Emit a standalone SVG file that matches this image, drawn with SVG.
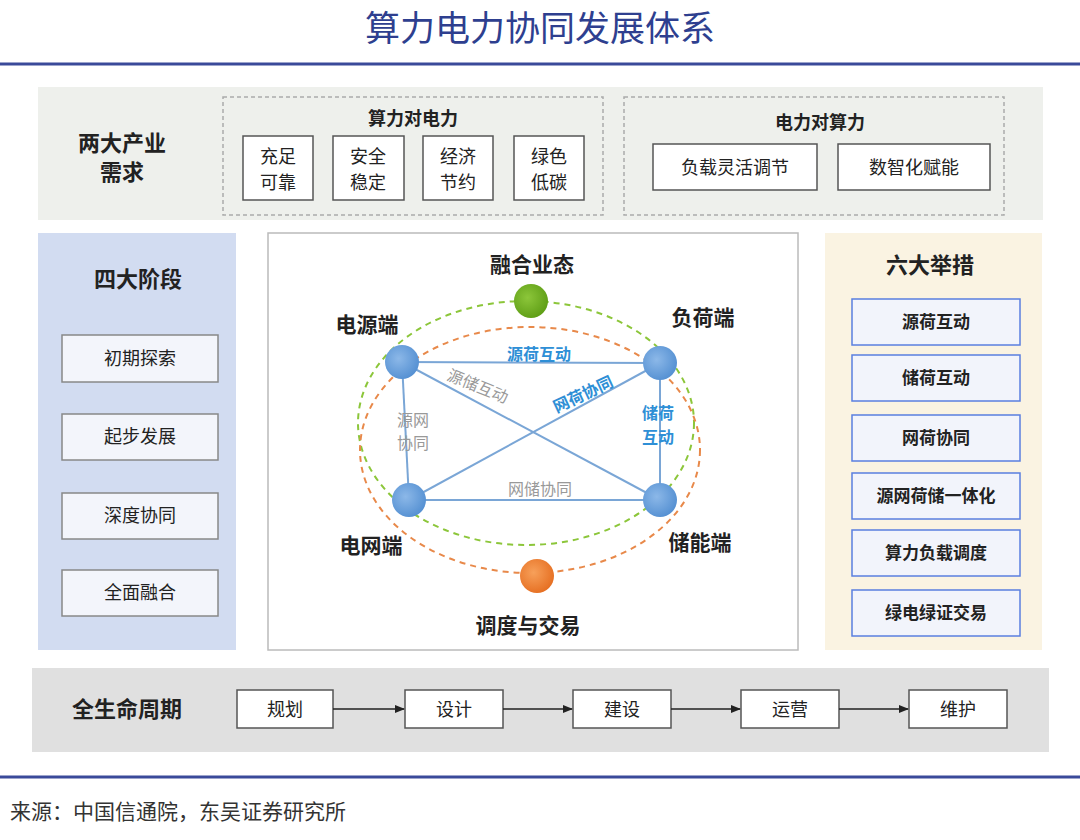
<svg xmlns="http://www.w3.org/2000/svg" width="1080" height="840" viewBox="0 0 1080 840">
<defs>
<marker id="ar" markerWidth="10" markerHeight="10" refX="9" refY="5" orient="auto" markerUnits="userSpaceOnUse"><path d="M0,1 L10,5 L0,9 Z" fill="#222"/></marker>
<radialGradient id="bg" cx="0.4" cy="0.4" r="0.7"><stop offset="0" stop-color="#8cb8e8"/><stop offset="1" stop-color="#4f8cd0"/></radialGradient>
<radialGradient id="gg" cx="0.4" cy="0.4" r="0.7"><stop offset="0" stop-color="#8cc63a"/><stop offset="1" stop-color="#5a9a12"/></radialGradient>
<radialGradient id="og" cx="0.4" cy="0.4" r="0.7"><stop offset="0" stop-color="#f7a05a"/><stop offset="1" stop-color="#e46a1c"/></radialGradient>
</defs>
<style>
text{font-family:"Noto Sans CJK SC","Noto Sans",sans-serif;text-anchor:middle;fill:#222}
.h{font-weight:bold;font-size:22px}
.s{font-weight:bold;font-size:18px}
.b{font-size:18px}
.bx{fill:#fff;stroke:#555;stroke-width:1.5}
.bl{fill:#f3f5fb;stroke:#888;stroke-width:1.5}
.rb{fill:#f2f4fb;stroke:#5a7fe0;stroke-width:1.5}
.dash{fill:none;stroke:#aaa;stroke-width:1.5;stroke-dasharray:4 3}
.ln{stroke:#7aa6d6;stroke-width:2;fill:none}
.nl{font-weight:bold;font-size:21px}
.bt{fill:#2e8fd6;font-weight:bold;font-size:16px}
.gt{fill:#999;font-size:16px}
.ar{stroke:#222;stroke-width:1.5}
</style>
<rect width="1080" height="840" fill="#fff"/>
<text x="540" y="41" style="font-size:35px;fill:#2e3f8f">算力电力协同发展体系</text>
<line x1="0" y1="64" x2="1080" y2="64" stroke="#3a4a9a" stroke-width="3"/>

<g id="top">
<rect x="38" y="87" width="1005" height="133" fill="#eef0ec"/>
<text x="122" y="151" class="h">两大产业</text>
<text x="122" y="180" class="h">需求</text>
<rect x="223" y="97" width="380" height="118" class="dash"/>
<text x="413" y="125" class="s">算力对电力</text>
<rect x="243" y="136" width="70" height="64" class="bx"/><text x="278" y="163" class="b">充足</text><text x="278" y="189" class="b">可靠</text>
<rect x="333" y="136" width="71" height="64" class="bx"/><text x="368" y="163" class="b">安全</text><text x="368" y="189" class="b">稳定</text>
<rect x="423" y="136" width="70" height="64" class="bx"/><text x="458" y="163" class="b">经济</text><text x="458" y="189" class="b">节约</text>
<rect x="514" y="136" width="70" height="64" class="bx"/><text x="549" y="163" class="b">绿色</text><text x="549" y="189" class="b">低碳</text>
<rect x="624" y="97" width="380" height="118" class="dash"/>
<text x="820" y="129" class="s">电力对算力</text>
<rect x="653" y="144" width="164" height="46" class="bx"/><text x="735" y="174" class="b">负载灵活调节</text>
<rect x="838" y="144" width="152" height="46" class="bx"/><text x="914" y="174" class="b">数智化赋能</text>
</g>

<g id="left">
<rect x="38" y="233" width="198" height="417" fill="#d2dcf1"/>
<text x="138" y="287" class="h">四大阶段</text>
<rect x="62" y="335" width="156" height="47" class="bl"/><text x="140" y="365" class="b">初期探索</text>
<rect x="62" y="414" width="156" height="46" class="bl"/><text x="140" y="443" class="b">起步发展</text>
<rect x="62" y="493" width="156" height="46" class="bl"/><text x="140" y="522" class="b">深度协同</text>
<rect x="62" y="570" width="156" height="46" class="bl"/><text x="140" y="599" class="b">全面融合</text>
</g>

<g id="center">
<rect x="268" y="233" width="530" height="417" fill="#fff" stroke="#bbb" stroke-width="1.5"/>
<ellipse cx="526" cy="423" rx="168" ry="122" fill="none" stroke="#8cc63a" stroke-width="2" stroke-dasharray="6 5"/>
<ellipse cx="530" cy="450" rx="170" ry="123" fill="none" stroke="#e8894a" stroke-width="2" stroke-dasharray="6 5"/>
</g>

<g id="bottom">
<rect x="32" y="668" width="1017" height="84" fill="#e0e0e0"/>
<text x="127" y="717" class="h">全生命周期</text>
<g id="b1"><rect x="237" y="690" width="96" height="38" class="bx"/><text x="285" y="716" class="b">规划</text></g>
<g id="b2"><rect x="405" y="690" width="98" height="38" class="bx"/><text x="454" y="716" class="b">设计</text></g>
<g id="b3"><rect x="573" y="690" width="98" height="38" class="bx"/><text x="622" y="716" class="b">建设</text></g>
<g id="b4"><rect x="741" y="690" width="98" height="38" class="bx"/><text x="790" y="716" class="b">运营</text></g>
<g id="b5"><rect x="909" y="690" width="98" height="38" class="bx"/><text x="958" y="716" class="b">维护</text></g>
</g>

<g id="connectors">
<line x1="402" y1="362" x2="660" y2="363" class="ln"/>
<line x1="402" y1="362" x2="660" y2="500" class="ln"/>
<line x1="402" y1="362" x2="409" y2="500" class="ln"/>
<line x1="660" y1="363" x2="409" y2="500" class="ln"/>
<line x1="660" y1="363" x2="660" y2="500" class="ln"/>
<line x1="409" y1="500" x2="660" y2="500" class="ln"/>
<line x1="333" y1="709" x2="404" y2="709" class="ar" marker-end="url(#ar)"/>
<line x1="503" y1="709" x2="572" y2="709" class="ar" marker-end="url(#ar)"/>
<line x1="671" y1="709" x2="740" y2="709" class="ar" marker-end="url(#ar)"/>
<line x1="839" y1="709" x2="908" y2="709" class="ar" marker-end="url(#ar)"/>
</g>

<g id="labels">
<text x="539" y="360" class="bt">源荷互动</text>
<text x="478" y="392" class="gt" transform="rotate(22 478 386)">源储互动</text>
<text x="583" y="400" class="bt" transform="rotate(-25 583 394)">网荷协同</text>
<text x="413" y="426" class="gt">源网</text><text x="413" y="449" class="gt">协同</text>
<text x="658" y="419" class="bt">储荷</text><text x="658" y="443" class="bt">互动</text>
<text x="540" y="495" class="gt">网储协同</text>
</g>

<g id="n-fusion"><circle cx="531" cy="301" r="17" fill="url(#gg)"/><text x="532" y="272" class="nl">融合业态</text></g>
<g id="n-source"><circle cx="402" cy="362" r="17" fill="url(#bg)"/><text x="367" y="332" class="nl">电源端</text></g>
<g id="n-load"><circle cx="660" cy="363" r="17" fill="url(#bg)"/><text x="703" y="325" class="nl">负荷端</text></g>
<g id="n-grid"><circle cx="409" cy="500" r="17" fill="url(#bg)"/><text x="371" y="553" class="nl">电网端</text></g>
<g id="n-storage"><circle cx="660" cy="500" r="17" fill="url(#bg)"/><text x="700" y="550" class="nl">储能端</text></g>
<g id="n-trade"><circle cx="537" cy="576" r="17" fill="url(#og)"/><text x="528" y="633" class="nl">调度与交易</text></g>

<g id="right">
<rect x="825" y="233" width="217" height="417" fill="#faf3e2"/>
<text x="930" y="273" class="h">六大举措</text>
<rect x="852" y="299" width="168" height="46" class="rb"/><text x="936" y="328" class="s" style="font-size:17px">源荷互动</text>
<rect x="852" y="355" width="168" height="46" class="rb"/><text x="936" y="384" class="s" style="font-size:17px">储荷互动</text>
<rect x="852" y="415" width="168" height="46" class="rb"/><text x="936" y="444" class="s" style="font-size:17px">网荷协同</text>
<rect x="852" y="473" width="168" height="46" class="rb"/><text x="936" y="502" class="s" style="font-size:17px">源网荷储一体化</text>
<rect x="852" y="530" width="168" height="46" class="rb"/><text x="936" y="559" class="s" style="font-size:17px">算力负载调度</text>
<rect x="852" y="590" width="168" height="46" class="rb"/><text x="936" y="619" class="s" style="font-size:17px">绿电绿证交易</text>
</g>

<line x1="0" y1="777" x2="1080" y2="777" stroke="#3a4a9a" stroke-width="3"/>
<text x="10" y="819" style="text-anchor:start;font-size:21px;fill:#333">来源：中国信通院，东吴证券研究所</text>
</svg>
